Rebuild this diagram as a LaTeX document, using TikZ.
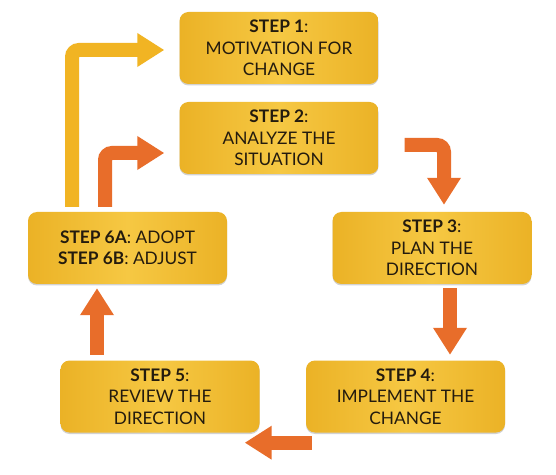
\documentclass[tikz,border=0pt]{standalone}
\usepackage{fontspec}
\setmainfont{Lato}
\usepackage{tikz}
\usetikzlibrary{arrows.meta,shadows}
\definecolor{boxmid}{HTML}{F6C843}
\definecolor{boxedge}{HTML}{EBB226}
\definecolor{gold}{HTML}{F1B423}
\definecolor{rust}{HTML}{E86D2A}
\definecolor{ink}{HTML}{241B0E}
\tikzset{
  stepbox/.style={rounded corners=9pt,minimum width=199pt,minimum height=72pt,inner sep=0pt,
    left color=boxedge,right color=boxedge,middle color=boxmid,
    drop shadow={shadow xshift=0pt,shadow yshift=-1.5pt,opacity=.35},
    align=center,text=ink,font=\fontsize{17.3}{21.5}\selectfont},
  flow/.style={line width=14pt,rounded corners=7pt,-{Triangle[length=27pt,width=32pt]}}
}

\begin{document}
\begin{tikzpicture}[x=1pt,y=1pt]
  \fill[white] (0,0) rectangle (556,474);
  \useasboundingbox (0,0) rectangle (556,474);
  \node[stepbox] (motiv) at (279,426) {\textbf{STEP 1}:\\MOTIVATION FOR\\CHANGE};
  \node[stepbox] (analyze) at (279,336) {\textbf{STEP 2}:\\ANALYZE THE\\SITUATION};
  \node[stepbox] (plan) at (432,226) {\textbf{STEP 3}:\\PLAN THE\\DIRECTION};
  \node[stepbox] (implement) at (405.5,77.5) {\textbf{STEP 4}:\\IMPLEMENT THE\\CHANGE};
  \node[stepbox] (review) at (160,77.5) {\textbf{STEP 5}:\\REVIEW THE\\DIRECTION};
  \node[stepbox] (adopt) at (127.5,226) {\textbf{STEP 6A}: ADOPT\\\textbf{STEP 6B}: ADJUST};
  \draw[flow,gold] ([xshift=-55.5pt,yshift=5pt]adopt.north) |- ([xshift=-15pt,yshift=-2pt]motiv.west);
  \draw[flow,rust] ([xshift=-22.5pt,yshift=5pt]adopt.north) |- ([xshift=-15pt,yshift=-15pt]analyze.west);
  \draw[flow,rust] ([xshift=26pt,yshift=-7pt]analyze.east) -| ([xshift=12pt,yshift=7pt]plan.north);
  \draw[flow,rust] ([xshift=18pt,yshift=-4pt]plan.south) -- ([xshift=44.5pt,yshift=5.5pt]implement.north);
  \draw[flow,rust] ([xshift=6pt,yshift=-10pt]implement.south west) -- ([xshift=-15pt,yshift=-10pt]review.south east);
  \draw[flow,rust] ([xshift=-63pt,yshift=5.5pt]review.north) -- ([xshift=-30.5pt,yshift=-4pt]adopt.south);
\end{tikzpicture}
\end{document}
